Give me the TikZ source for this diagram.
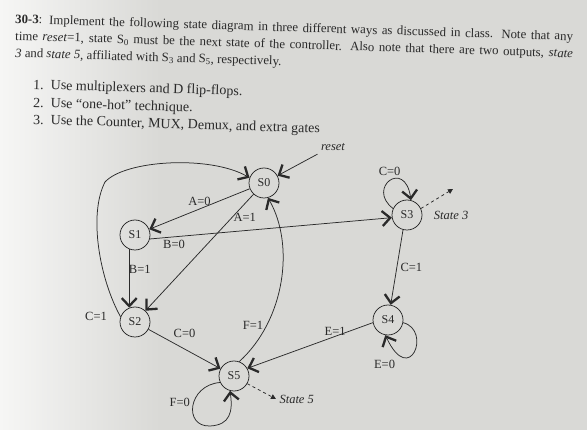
\documentclass[tikz,border=0pt]{standalone}
\usepackage{fontspec}
\setmainfont{Liberation Serif}
\usepackage{tikz}
\usetikzlibrary{arrows.meta,positioning}
\definecolor{encre}{RGB}{42,42,42}
\definecolor{papier}{RGB}{217,217,214}
\definecolor{clair}{RGB}{246,246,245}
\newcommand{\ind}[1]{\textsubscript{#1}}

\begin{document}
\begin{tikzpicture}[x=1pt, y=-1pt, color=encre, font=\fontsize{12.5}{14}\selectfont,
  etat/.style={draw, circle, minimum size=30pt, inner sep=0pt, line width=0.75pt, font=\fontsize{12}{13}\selectfont},
  fleche/.style={-{Straight Barb[length=8pt, width=15pt, line width=2.3pt]}, line width=0.75pt},
  pointille/.style={dashed, -{Triangle[length=5pt, width=5pt]}, line width=0.75pt},
  ligne/.style={anchor=base west, rotate=-1.8, inner sep=0pt, font=\fontsize{12.8}{15}\selectfont},
  point/.style={ligne, font=\fontsize{14}{16}\selectfont},
  sortie/.style={font=\fontsize{12.5}{14}\selectfont\itshape}]
\shade[left color=clair, right color=papier] (0,0) rectangle (160,430);
\fill[papier] (160,0) rectangle (587,430);
\useasboundingbox (0,0) rectangle (587,430);
\node[ligne] (l1) at (15,23) {\makebox[558pt][s]{\textbf{30-3}: Implement the following state diagram in three different ways as discussed in class. Note that any}};
\node[ligne] (l2) at (15,40) {\makebox[558pt][s]{time \textit{reset}=1, state S\ind{0} must be the next state of the controller. Also note that there are two outputs, \textit{state}}};
\node[ligne] (l3) at (15,57) {\textit{3} and \textit{state 5}, affiliated with S\ind{3} and S\ind{5}, respectively.};
\node[point] (i1) at (33,89) {1.\hspace{7pt}Use multiplexers and D flip-flops.};
\node[point] (i2) at (33,107) {2.\hspace{7pt}Use ``one-hot'' technique.};
\node[point] (i3) at (33,124) {3.\hspace{7pt}Use the Counter, MUX, Demux, and extra gates};
\node[etat] (s0) at (264,183) {S0};
\node[etat] (s1) at (135,235) {S1};
\node[etat] (s2) at (135,322) {S2};
\node[etat] (s5) at (234,376) {S5};
\node[etat] (s4) at (388,320) {S4};
\node[etat] (s3) at (407,215) {S3};
\node[sortie] (rst) at (333,147) {reset};
\node[sortie, right=8pt of s3] (st3) {State 3};
\node[sortie, anchor=west] (st5) at (276,399) {State 5};
\coordinate (o3) at (453,189);
\draw[fleche] (rst.south west) -- (s0);
\draw[fleche] (s0) -- node[midway, above] {A=0} (s1);
\draw[fleche] (s0) -- node[pos=0.2, right=-2pt] {A=1} (s2);
\draw[fleche] (s1.-15) -- node[pos=0.1, below] {B=0} (s3.190);
\draw[fleche] (s1.-112) -- node[pos=0.35, right=-4pt] {B=1} (s2.112);
\draw[fleche] (s2.160) node[left=10pt] {C=1} .. controls (100,280) and (88,215) .. (105,182) .. controls (125,160) and (210,155) .. (s0.160);
\draw[fleche] (s2) -- node[midway, above=8pt] {C=0} (s5);
\draw[fleche] (s5.70) .. controls (285,320) and (295,245) .. (s0.-75) node[pos=0.25, left] {F=1};
\draw[fleche] (s5.-155) .. controls (188,385) and (183,427) .. (210,426) node[pos=0.45, left] {F=0} .. controls (230,425) and (233,412) .. (s5.-105);
\draw[fleche] (s4.190) -- node[pos=0.3, above=-3pt] {E=1} (s5.30);
\draw[fleche] (s4.-10) .. controls (432,330) and (410,388) .. (s4.-100) node[pos=0.6, xshift=-26pt, yshift=-9pt] {E=0};
\draw[fleche] (s3.-105) -- node[midway, right] {C=1} (s4.80);
\draw[fleche] (s3.155) .. controls (366,188) and (405,158) .. (s3.75) node[midway, above=1pt] {C=0};
\draw[pointille] (s3.25) -- (o3); \draw[pointille] (s5.-30) -- (st5.west);
\end{tikzpicture}
\end{document}
